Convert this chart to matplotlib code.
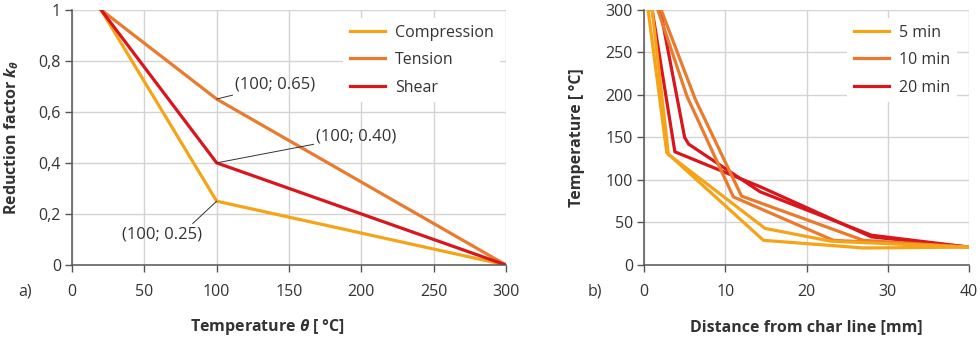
import matplotlib
matplotlib.use("Agg")
import matplotlib.pyplot as plt

# a) reduction factors for timber strength vs. temperature
theta = [20, 100, 300]
k_compression = [1.0, 0.25, 0.0]
k_tension = [1.0, 0.65, 0.0]
k_shear = [1.0, 0.40, 0.0]
k_labels = ["(100; 0.65)", "(100; 0.40)", "(100; 0.25)"]

# b) temperature profiles behind the char line, two profiles per exposure time
dist_5min_a = [0.5, 2.8, 14.7, 27.0, 40.0]
temp_5min_a = [300, 132, 29, 20, 21]
dist_5min_b = [1.0, 3.0, 14.9, 23.0, 40.0]
temp_5min_b = [300, 130, 43, 28, 21]
dist_10min_a = [1.7, 5.3, 11.0, 23.3, 40.0]
temp_10min_a = [300, 198, 80, 29, 21]
dist_10min_b = [2.1, 6.3, 12.0, 27.0, 40.0]
temp_10min_b = [300, 195, 81, 29, 21]
dist_20min_a = [1.0, 3.8, 14.3, 28.0, 40.0]
temp_20min_a = [300, 133, 92, 33, 21]
dist_20min_b = [2.0, 5.0, 5.5, 14.3, 28.0, 40.0]
temp_20min_b = [300, 150, 142, 86, 35, 21]

YELLOW = "#F5A418"
ORANGE = "#EA7A2E"
RED = "#D9161C"
TEXT = "#333333"

plt.rcParams["font.family"] = ["Open Sans", "DejaVu Sans"]
plt.rcParams["font.size"] = 11.5
plt.rcParams["mathtext.fontset"] = "custom"
plt.rcParams["mathtext.rm"] = "Open Sans:bold"
plt.rcParams["mathtext.it"] = "Open Sans:italic:bold"
plt.rcParams["mathtext.bf"] = "Open Sans:bold"


def style_axes(ax):
    """Grid, spines and ticks shared by both panels"""
    ax.grid(True, color="#d4d4d4", linewidth=1.0)
    ax.set_axisbelow(True)
    for side in ("top", "right"):
        ax.spines[side].set_visible(False)
    for side in ("left", "bottom"):
        ax.spines[side].set_color("#555555")
        ax.spines[side].set_linewidth(1.1)
    ax.tick_params(axis="both", length=5, width=1.0, color="#555555",
                   labelcolor=TEXT, labelsize=11.5)
    ax.tick_params(axis="x", pad=9)
    ax.tick_params(axis="y", pad=3)


def add_legend(ax, handles):
    leg = ax.legend(handles=handles, loc="upper left", bbox_to_anchor=(0.625, 0.967),
                    borderaxespad=0, handlelength=2.2, handletextpad=0.65,
                    labelspacing=0.72, frameon=True, framealpha=1, edgecolor="none",
                    fancybox=False, fontsize=11.5)
    for t in leg.get_texts():
        t.set_color(TEXT)


def place_labels(ax, xlabel_x, ylabel_x):
    """Axis labels centred on fixed pixel rows/columns"""
    ax.xaxis.label.set_va("center")
    ax.xaxis.set_label_coords(xlabel_x, (265 - 327) / 255.3)
    ax.yaxis.label.set_va("center")
    ax.yaxis.set_label_coords(ylabel_x, 0.5)


fig = plt.figure(figsize=(9.8, 3.38), dpi=100)

# panel a)
ax1 = fig.add_axes([72 / 980, 1 - 265 / 338, 434 / 980, 255.3 / 338])
l1, = ax1.plot(theta, k_compression, color=YELLOW, lw=2.3, label="Compression")
l2, = ax1.plot(theta, k_tension, color=ORANGE, lw=2.3, label="Tension")
l3, = ax1.plot(theta, k_shear, color=RED, lw=2.3, label="Shear")
ax1.set_xlim(0, 300)
ax1.set_ylim(0, 1)
ax1.set_xticks(range(0, 301, 50))
ax1.set_yticks([0, 0.2, 0.4, 0.6, 0.8, 1.0])
ax1.set_yticklabels(["0", "0,2", "0,4", "0,6", "0,8", "1"])
style_axes(ax1)
add_legend(ax1, [l1, l2, l3])

arrow = dict(arrowstyle="-", color="#333333", lw=0.7, shrinkA=0, shrinkB=0)
ax1.annotate(k_labels[0], xy=(theta[1], k_tension[1]), xytext=(113, 0.707),
             ha="left", va="center", color=TEXT, fontsize=12, arrowprops=arrow)
ax1.annotate(k_labels[1], xy=(theta[1], k_shear[1]), xytext=(169, 0.505),
             ha="left", va="center", color=TEXT, fontsize=12, arrowprops=arrow)
ax1.annotate(k_labels[2], xy=(theta[1], k_compression[1]), xytext=(62, 0.12),
             ha="center", va="center", color=TEXT, fontsize=12,
             arrowprops=dict(arrow, relpos=(0.85, 1.0)))

ax1.set_xlabel("Temperature $\\theta$ [\u2009°C]", fontweight="bold", color=TEXT, fontsize=11.5)
ax1.set_ylabel(r"Reduction factor $k_{\theta}$", fontweight="bold", color=TEXT, fontsize=11.5)
place_labels(ax1, (267 - 72) / 434, (12 - 72) / 434)

# panel b)
ax2 = fig.add_axes([644 / 980, 1 - 265 / 338, 325 / 980, 255.3 / 338])
ax2.plot(dist_20min_a, temp_20min_a, color=RED, lw=2.3, zorder=2)
r, = ax2.plot(dist_20min_b, temp_20min_b, color=RED, lw=2.3, zorder=2, label="20 min")
ax2.plot(dist_10min_a, temp_10min_a, color=ORANGE, lw=2.3, zorder=3)
o, = ax2.plot(dist_10min_b, temp_10min_b, color=ORANGE, lw=2.3, zorder=3, label="10 min")
ax2.plot(dist_5min_a, temp_5min_a, color=YELLOW, lw=2.3, zorder=4)
y, = ax2.plot(dist_5min_b, temp_5min_b, color=YELLOW, lw=2.3, zorder=4, label="5 min")
ax2.set_xlim(0, 40)
ax2.set_ylim(0, 300)
ax2.set_xticks(range(0, 41, 10))
ax2.set_yticks(range(0, 301, 50))
style_axes(ax2)
add_legend(ax2, [y, o, r])

ax2.set_xlabel("Distance from char line [mm]", fontweight="bold", color=TEXT, fontsize=11.5)
ax2.set_ylabel("Temperature [\u2009°C]", fontweight="bold", color=TEXT, fontsize=11.5)
place_labels(ax2, 0.5, (577 - 644) / 325)

fig.text(25 / 980, 1 - 291 / 338, "a)", ha="center", va="center", color=TEXT, fontsize=11.5)
fig.text(595 / 980, 1 - 291 / 338, "b)", ha="center", va="center", color=TEXT, fontsize=11.5)

fig.savefig("out.png", dpi=100)
